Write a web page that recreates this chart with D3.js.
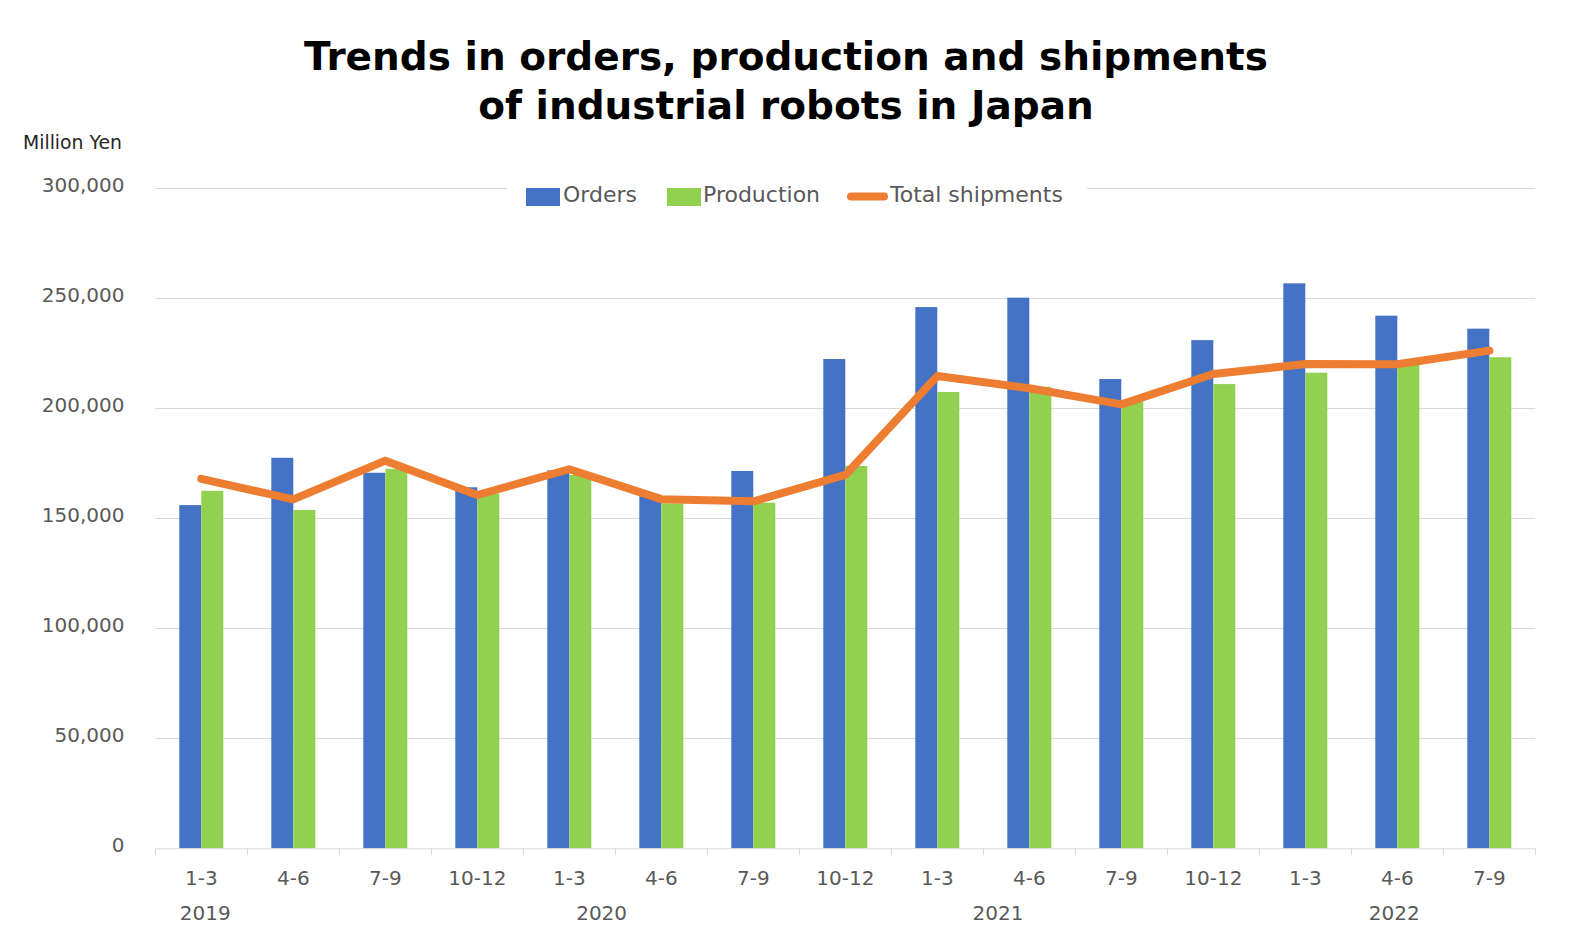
<!DOCTYPE html>
<html>
<head>
<meta charset="utf-8">
<script src="https://cdn.jsdelivr.net/npm/d3@7"></script>
<style>
  body { margin: 0; background: #fff; }
  svg { display: block; font-family: "DejaVu Sans", Verdana, sans-serif; }
</style>
</head>
<body>
<svg id="chart" width="1589" height="933"></svg>
<script>
// data (million yen)
var quarters = ["1-3","4-6","7-9","10-12","1-3","4-6","7-9","10-12","1-3","4-6","7-9","10-12","1-3","4-6","7-9"];
var years = ["2019","2020","2021","2022"];
var orders = [156000,177500,170700,164100,171800,160000,171500,222400,246000,250300,213300,231000,256800,242100,236200];
var production = [162500,153800,172500,161300,169700,156800,157100,173800,207400,209800,203000,211000,216200,219700,223200];
var shipments = [167900,158600,176200,160600,172300,158700,157700,169700,214700,209100,201800,215600,220100,220000,226200];
var yTicks = [0,50000,100000,150000,200000,250000,300000];
var seriesNames = ["Orders","Production","Total shipments"];

var colors = { orders: "#4472C4", production: "#92D050", ship: "#ED7D31" };
var gridColor = "#D9D9D9", textColor = "#595959";

var svg = d3.select("#chart");
var plotLeft = 155.3, plotRight = 1535.3, plotTop = 188.3, plotBottom = 848.3;

var x0 = d3.scaleBand().domain(d3.range(quarters.length)).range([plotLeft, plotRight]).padding(0);
var x1 = d3.scaleBand().domain(["orders","production"]).range([0, x0.bandwidth()])
    .paddingInner(0).paddingOuter(1.09);
var y = d3.scaleLinear().domain([0, 300000]).range([plotBottom, plotTop]);

// title
var title = svg.append("text")
    .attr("text-anchor", "middle")
    .style("font-weight", "bold").style("font-size", "39px").attr("fill", "#000");
title.append("tspan").attr("x", 786).attr("y", 70).text("Trends in orders, production and shipments");
title.append("tspan").attr("x", 786).attr("y", 119).text("of industrial robots in Japan");

svg.append("text").attr("x", 23).attr("y", 149)
    .style("font-size", "18.8px").attr("fill", "#262626").text("Million Yen");

// gridlines + y labels
svg.append("g").selectAll("line").data(yTicks.filter(function(d){ return d > 0; }))
  .enter().append("line")
    .attr("x1", plotLeft).attr("x2", plotRight)
    .attr("y1", function(d){ return Math.round(y(d)) + 0.5; })
    .attr("y2", function(d){ return Math.round(y(d)) + 0.5; })
    .attr("stroke", gridColor).attr("stroke-width", 1);

svg.append("g").selectAll("text").data(yTicks).enter().append("text")
    .attr("x", 124.5).attr("y", function(d){ return y(d); })
    .attr("dy", "0.17em")
    .attr("text-anchor", "end")
    .style("font-size", "20px").attr("fill", textColor)
    .text(function(d){ return d3.format(",")(d); });

// bars
var groups = svg.append("g").selectAll("g").data(quarters).enter().append("g")
    .attr("transform", function(d, i){ return "translate(" + x0(i) + ",0)"; });
groups.append("rect")
    .attr("x", x1("orders")).attr("width", x1.bandwidth())
    .attr("y", function(d, i){ return y(orders[i]); })
    .attr("height", function(d, i){ return plotBottom - y(orders[i]); })
    .attr("fill", colors.orders);
groups.append("rect")
    .attr("x", x1("production")).attr("width", x1.bandwidth())
    .attr("y", function(d, i){ return y(production[i]); })
    .attr("height", function(d, i){ return plotBottom - y(production[i]); })
    .attr("fill", colors.production);

// x axis
svg.append("line").attr("x1", plotLeft).attr("x2", plotRight)
    .attr("y1", plotBottom + 0.5).attr("y2", plotBottom + 0.5)
    .attr("stroke", gridColor).attr("stroke-width", 1);
var bounds = d3.range(quarters.length + 1).map(function(i){ return plotLeft + i * x0.step(); });
svg.append("g").selectAll("line").data(bounds).enter().append("line")
    .attr("x1", function(d){ return Math.round(d) + 0.5; })
    .attr("x2", function(d){ return Math.round(d) + 0.5; })
    .attr("y1", plotBottom).attr("y2", plotBottom + 7)
    .attr("stroke", gridColor);

svg.append("g").selectAll("text").data(quarters).enter().append("text")
    .attr("x", function(d, i){ return x0(i) + x0.bandwidth() / 2; })
    .attr("y", 885)
    .attr("text-anchor", "middle")
    .style("font-size", "20px").attr("fill", textColor)
    .text(function(d){ return d; });

// year labels spread from first quarter to the middle of the last year group
var yearX = d3.scalePoint().domain(years)
    .range([x0(0) + x0.bandwidth() / 2 + 4, x0(13) + x0.bandwidth() / 2 - 3]);
svg.append("g").selectAll("text").data(years).enter().append("text")
    .attr("x", function(d){ return yearX(d); })
    .attr("y", 920)
    .attr("text-anchor", "middle")
    .style("font-size", "20px").attr("fill", textColor)
    .text(function(d){ return d; });

// shipments line
var line = d3.line()
    .x(function(d, i){ return x0(i) + x0.bandwidth() / 2; })
    .y(function(d){ return y(d); });
svg.append("path").datum(shipments)
    .attr("d", line)
    .attr("fill", "none")
    .attr("stroke", colors.ship).attr("stroke-width", 8)
    .attr("stroke-linecap", "round").attr("stroke-linejoin", "round");

// legend
var lg = svg.append("g");
lg.append("rect").attr("x", 507).attr("y", 176).attr("width", 580).attr("height", 34).attr("fill", "#fff");
lg.append("rect").attr("x", 526).attr("y", 188).attr("width", 34).attr("height", 18).attr("fill", colors.orders);
lg.append("text").attr("x", 563).attr("y", 202).style("font-size", "22px").attr("fill", textColor).text(seriesNames[0]);
lg.append("rect").attr("x", 667).attr("y", 188).attr("width", 34).attr("height", 18).attr("fill", colors.production);
lg.append("text").attr("x", 703).attr("y", 202).style("font-size", "22px").attr("fill", textColor).text(seriesNames[1]);
lg.append("line").attr("x1", 851).attr("x2", 884).attr("y1", 196.5).attr("y2", 196.5)
    .attr("stroke", colors.ship).attr("stroke-width", 8).attr("stroke-linecap", "round");
lg.append("text").attr("x", 890).attr("y", 202).style("font-size", "22px").attr("fill", textColor).text(seriesNames[2]);
</script>
</body>
</html>
